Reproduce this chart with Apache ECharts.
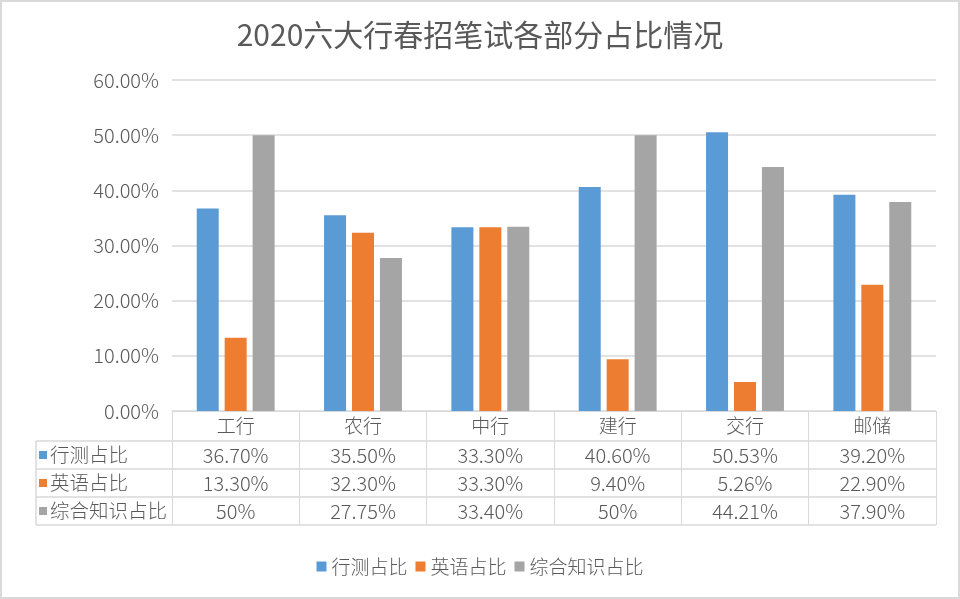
<!DOCTYPE html>
<html>
<head>
<meta charset="utf-8">
<script src="https://cdn.jsdelivr.net/npm/echarts@6/dist/echarts.min.js"></script>
<style>
  html, body { margin: 0; padding: 0; background: #fff; }
  #main { width: 960px; height: 599px; }
</style>
</head>
<body>
<div id="main"></div>
<script>
// 数据
var banks = ['工行', '农行', '中行', '建行', '交行', '邮储'];
var seriesNames = ['行测占比', '英语占比', '综合知识占比'];
var colors = ['#5B9BD5', '#ED7D31', '#A5A5A5'];
var xingce = [36.70, 35.50, 33.30, 40.60, 50.53, 39.20];
var yingyu = [13.30, 32.30, 33.30, 9.40, 5.26, 22.90];
var zonghe = [50, 27.75, 33.40, 50, 44.21, 37.90];
// 表格里显示的文字(原图格式不统一, 照抄)
var xingceText = ['36.70%', '35.50%', '33.30%', '40.60%', '50.53%', '39.20%'];
var yingyuText = ['13.30%', '32.30%', '33.30%', '9.40%', '5.26%', '22.90%'];
var zongheText = ['50%', '27.75%', '33.40%', '50%', '44.21%', '37.90%'];

var values = [xingce, yingyu, zonghe];
var rowTexts = [xingceText, yingyuText, zongheText];

var textColor = '#595959';
var lineColor = '#d9d9d9';
var font = '"Noto Sans CJK SC", "Microsoft YaHei", sans-serif';
var weight = 300;

var gridLeft = 172, gridRight = 24, gridTop = 80, zeroY = 411;
var rowTops = [441, 469, 497];   // 数据行上边线
var tableBottom = 525;
var tableLeft = 36;

var myChart = echarts.init(document.getElementById('main'));

// 表格的额外x轴 (每行一根, 文字居中在行中间)
var xAxes = [{
    type: 'category',
    data: banks,
    axisLine: { lineStyle: { color: lineColor } },
    axisTick: { show: true, length: tableBottom - zeroY, lineStyle: { color: lineColor } },
    axisLabel: { color: textColor, fontSize: 19, fontWeight: weight, fontFamily: font, margin: 5 }
}];
rowTexts.forEach(function (txt, i) {
    var center = (rowTops[i] + (i < 2 ? rowTops[i + 1] : tableBottom)) / 2;
    xAxes.push({
        type: 'category',
        data: txt,
        position: 'bottom',
        offset: center - zeroY,
        axisLine: { show: false },
        axisTick: { show: false },
        axisLabel: { color: textColor, fontSize: 20, fontWeight: weight, fontFamily: font, margin: 0, verticalAlign: 'middle' },
        name: '{s|}{t|' + seriesNames[i] + '}',
        nameLocation: 'start',
        nameGap: gridLeft - tableLeft - 3,
        nameTextStyle: {
            align: 'left',
            verticalAlign: 'middle',
            rich: {
                s: { width: 8, height: 8, backgroundColor: colors[i] },
                t: { color: textColor, fontSize: 19.5, fontWeight: weight, fontFamily: font, padding: [0, 0, 0, 3] }
            }
        }
    });
});

// 表格框线
var graphics = [];
rowTops.concat([tableBottom]).forEach(function (y) {
    graphics.push({
        type: 'line',
        shape: { x1: tableLeft, y1: y, x2: 960 - gridRight, y2: y },
        style: { stroke: lineColor, lineWidth: 1.5 }
    });
});
graphics.push({
    type: 'line',
    shape: { x1: tableLeft, y1: rowTops[0], x2: tableLeft, y2: tableBottom },
    style: { stroke: lineColor, lineWidth: 1.5 }
});
// 外框
graphics.push({
    type: 'rect',
    shape: { x: 1, y: 1, width: 958, height: 597 },
    style: { fill: 'none', stroke: '#d9d9d9', lineWidth: 2 },
    silent: true
});

var option = {
    backgroundColor: '#fff',
    title: {
        text: '2020六大行春招笔试各部分占比情况',
        left: 'center',
        top: 15,
        textStyle: { color: textColor, fontSize: 30, fontWeight: 'normal', fontFamily: font }
    },
    legend: {
        data: seriesNames,
        bottom: 18,
        itemWidth: 10,
        itemHeight: 10,
        itemGap: 8,
        icon: 'rect',
        textStyle: { color: textColor, fontSize: 19, fontWeight: weight, fontFamily: font }
    },
    grid: {
        left: gridLeft,
        right: gridRight,
        top: gridTop,
        bottom: 599 - zeroY
    },
    xAxis: xAxes,
    yAxis: {
        type: 'value',
        min: 0,
        max: 60,
        interval: 10,
        axisLine: { show: false },
        axisTick: { show: false },
        splitLine: { lineStyle: { color: lineColor, width: 1.5 } },
        axisLabel: {
            color: textColor,
            fontSize: 20,
            fontWeight: weight,
            fontFamily: font,
            margin: 13,
            formatter: function (v) { return v.toFixed(2) + '%'; }
        }
    },
    graphic: graphics,
    series: seriesNames.map(function (name, i) {
        return {
            name: name,
            type: 'bar',
            data: values[i],
            barWidth: 22,
            barGap: '27%',
            itemStyle: { color: colors[i] }
        };
    })
};

myChart.setOption(option);
</script>
</body>
</html>
